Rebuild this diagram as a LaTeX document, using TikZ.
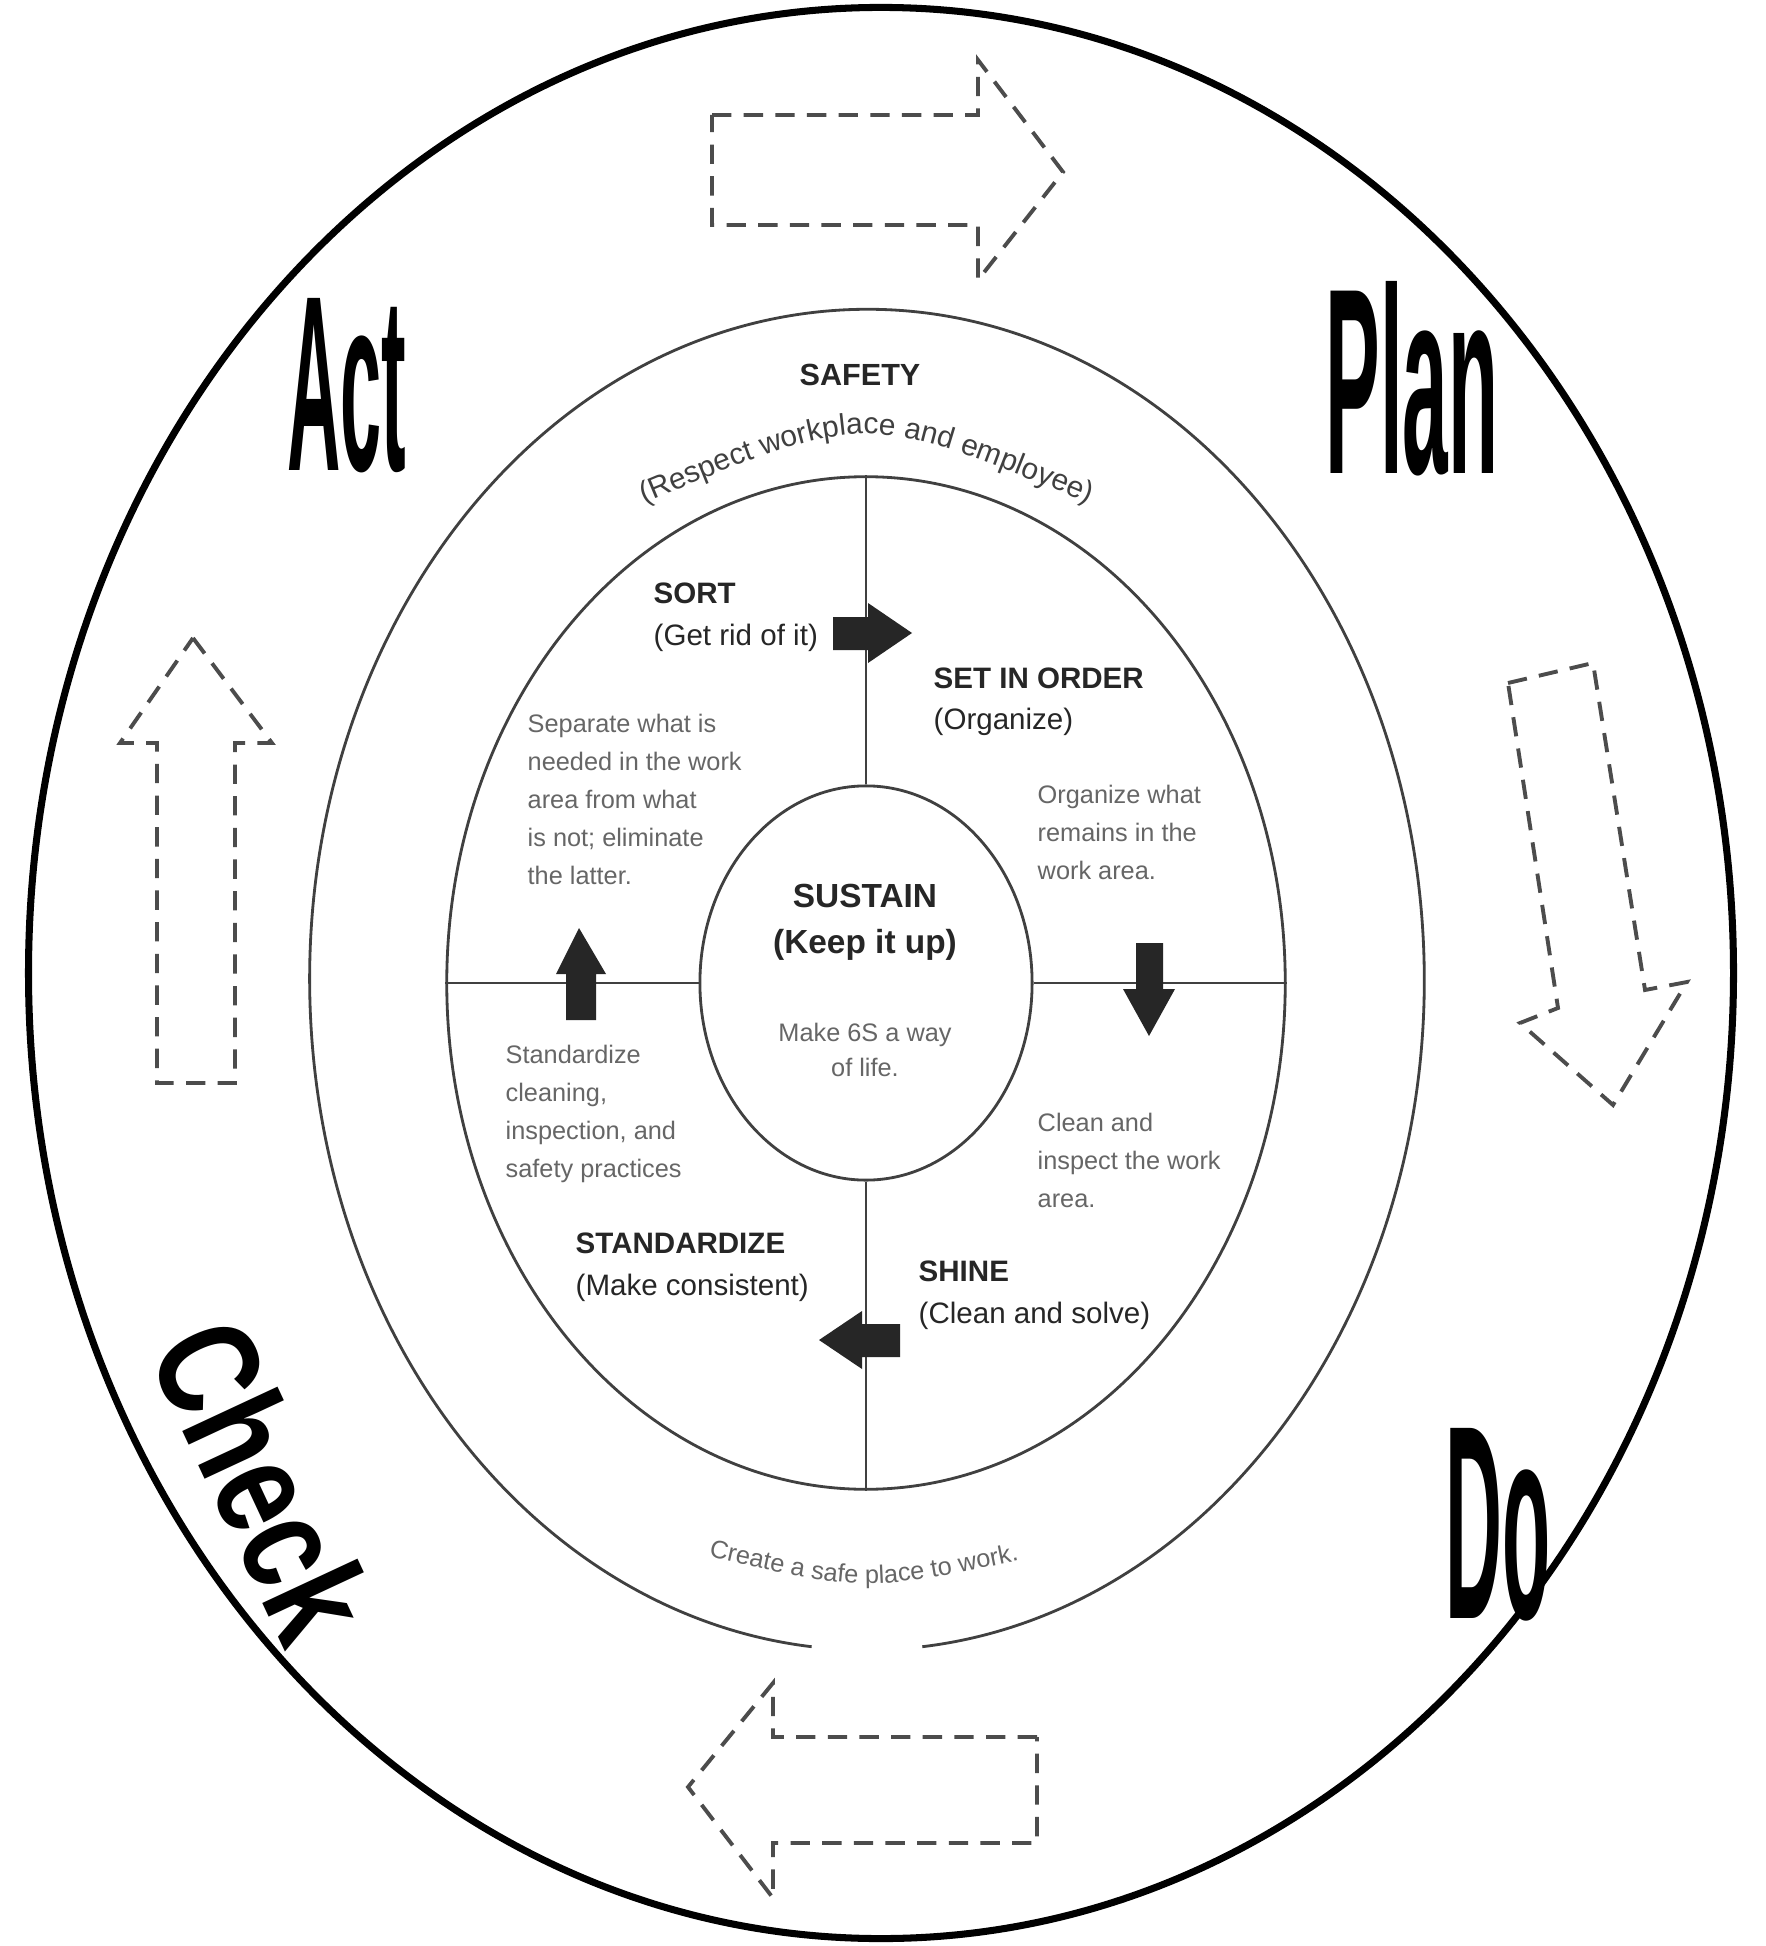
\documentclass[tikz,border=0pt]{standalone}
\usepackage{fontspec}
\setmainfont{Liberation Sans}
\usepackage{graphicx}
\usetikzlibrary{decorations.text,shapes.geometric}
\begin{document}
\begin{tikzpicture}[x=0.01cm, y=-0.01cm,
  ring/.style={draw=black!75, line width=0.8pt},
  outerring/.style={draw=black, line width=2pt},
  dasharrow/.style={draw=black!70, line width=1.1pt, dash pattern=on 5.5pt off 3.5pt, line join=miter},
  blockarrow/.style={fill=black!85, draw=none},
  title/.style={font=\fontsize{8.4}{11.8}\selectfont, text=black!85, align=left, inner sep=0pt, anchor=west},
  desc/.style={font=\fontsize{7.2}{10.8}\selectfont, text=black!60, align=left, inner sep=0pt, anchor=west},
  pdca/.style={inner sep=0pt, text=black}
]
\useasboundingbox (0,0) rectangle (1765,1946);
\fill[white] (0,0) rectangle (1765,1946);

% outer ring
\draw[outerring] (881,973) ellipse [x radius=8.52cm, y radius=9.65cm];
% safety ring with gap at bottom
\draw[ring] (922.3,1646.7) arc [start angle=275.7, end angle=624.3, x radius=5.57cm, y radius=6.70cm];
% 5S ring and core
\node[ring, ellipse, minimum width=8.38cm, minimum height=10.12cm, inner sep=0pt] (inner) at (866,983) {};
\node[ring, ellipse, minimum width=3.32cm, minimum height=3.94cm, inner sep=0pt, fill=white] (core) at (866,983) {};
% quadrant dividers
\draw[ring] (inner.north) -- (core.north);
\draw[ring] (core.south) -- (inner.south);
\draw[ring] (inner.west) -- (core.west);
\draw[ring] (core.east) -- (inner.east);

% block arrows
\fill[blockarrow] (833,617) -- (868,617) -- (868,603) -- (912,633) -- (868,663) -- (868,650) -- (833,650) -- cycle;
\fill[blockarrow] (1136,943) -- (1163,943) -- (1163,989) -- (1175,989) -- (1149,1036) -- (1123,989) -- (1136,989) -- cycle;
\fill[blockarrow] (900,1324) -- (862,1324) -- (862,1311) -- (819,1340) -- (862,1369) -- (862,1357) -- (900,1357) -- cycle;
\fill[blockarrow] (579,928) -- (606,974) -- (596,974) -- (596,1020) -- (566,1020) -- (566,974) -- (556,974) -- cycle;

% dashed PDCA arrows
\draw[dasharrow] (712,115) -- (978,115) -- (978,60) -- (1063,172) -- (978,280) -- (978,225) -- (712,225) -- cycle;
\draw[dasharrow] (1508,683) -- (1593,663) -- (1645,990) -- (1687,982) -- (1613,1105) -- (1520,1023) -- (1558,1008) -- cycle;
\draw[dasharrow] (1037,1737) -- (773,1737) -- (773,1683) -- (688,1787) -- (773,1898) -- (773,1843) -- (1037,1843) -- cycle;
\draw[dasharrow] (193,638) -- (272,743) -- (235,743) -- (235,1083) -- (157,1083) -- (157,743) -- (120,743) -- cycle;

% PDCA words
\node[pdca] (act) at (347,386) {\resizebox{1.19cm}{1.72cm}{\bfseries Act}};
\node[pdca] (plan) at (1412,379) {\resizebox{1.73cm}{1.92cm}{\bfseries Plan}};
\node[pdca] (do) at (1498,1525) {\resizebox{1.05cm}{1.90cm}{\bfseries Do}};
\node[pdca, rotate=-65] (check) at (263,1480) {\resizebox{3.3cm}{1.05cm}{\bfseries Check}};

% safety texts
\node[font=\fontsize{8.7}{10}\selectfont\bfseries, text=black!85, inner sep=0pt] (safety) at (860,375) {SAFETY};
\path[decorate, decoration={text along path, text align=center,
  text={|\fontsize{8.5}{10}\selectfont\color{black!75}|(Respect workplace and employee)}}]
  (645,503) .. controls (866,411) .. (1088,503);
\path[decorate, decoration={text along path, text align=center,
  text={|\fontsize{7.2}{9}\selectfont\color{black!60}|Create a safe place to work.}}]
  (706,1556) .. controls (865,1592) .. (1022,1560);

% 5S titles
\node[title] (sort) at (653,617) {\textbf{SORT}\\(Get rid of it)};
\node[title] (setinorder) at (933,702) {\textbf{SET IN ORDER}\\(Organize)};
\node[title] (standardize) at (575,1267) {\textbf{STANDARDIZE}\\(Make consistent)};
\node[title] (shine) at (918,1295) {\textbf{SHINE}\\(Clean and solve)};
\node[font=\fontsize{9.5}{13}\selectfont\bfseries, text=black!85, align=center, inner sep=0pt] (sustain) at (865,922) {SUSTAIN\\(Keep it up)};

% descriptions
\node[desc] (sortd) at (527,799) {Separate what is\\needed in the work\\area from what\\is not; eliminate\\the latter.};
\node[desc] (setd) at (1037,832) {Organize what\\remains in the\\work area.};
\node[desc, anchor=center, align=center, font=\fontsize{7.2}{10}\selectfont] (sustaind) at (865,1050) {Make 6S a way\\of life.};
\node[desc] (standd) at (505,1114) {Standardize\\cleaning,\\inspection, and\\safety practices};
\node[desc] (shined) at (1037,1160) {Clean and\\inspect the work\\area.};
\end{tikzpicture}
\end{document}
